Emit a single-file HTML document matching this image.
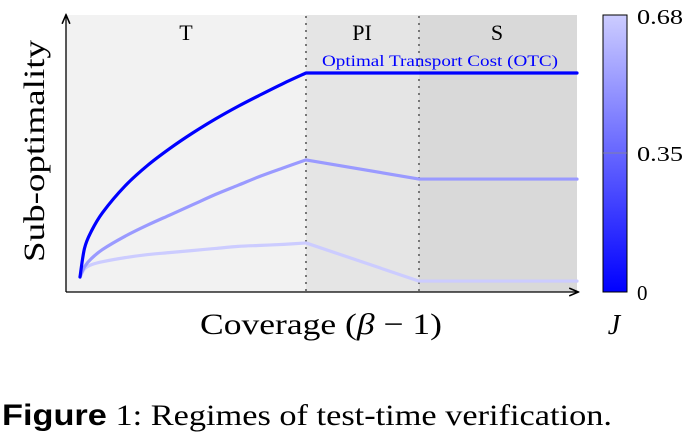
<!DOCTYPE html>
<html><head><meta charset="utf-8"><style>
body{margin:0;background:#fff;width:689px;height:441px;overflow:hidden}
svg text{font-family:"Liberation Serif",serif}
</style></head><body>
<svg width="689" height="441">
<defs><linearGradient id="cb" x1="0" y1="1" x2="0" y2="0"><stop offset="0" stop-color="#0000ff"/><stop offset="1" stop-color="#ccccff"/></linearGradient>
<marker id="ar" markerWidth="8" markerHeight="8" refX="6" refY="4" orient="auto"><path d="M0,1 L7,4 L0,7" fill="none" stroke="#000" stroke-width="1.2"/></marker></defs>
<g id="bg"></g>
<g id="lines"></g>
<line x1="66" y1="292" x2="66" y2="16" stroke="#000" stroke-width="1.3" marker-end="url(#ar)"/>
<line x1="66" y1="292" x2="577" y2="292" stroke="#000" stroke-width="1.3" marker-end="url(#ar)"/>
<text x="186" y="40" font-size="22" text-anchor="middle">T</text>
<text x="362" y="40" font-size="22" text-anchor="middle">PI</text>
<text x="497" y="40" font-size="22" text-anchor="middle">S</text>
<text x="322" y="66" font-size="16" fill="#0000ff" textLength="236" lengthAdjust="spacingAndGlyphs">Optimal Transport Cost (OTC)</text>
<text transform="translate(44,262) rotate(-90)" font-size="30" textLength="222" lengthAdjust="spacingAndGlyphs">Sub-optimality</text>
<text x="200" y="334" font-size="30" textLength="242" lengthAdjust="spacingAndGlyphs">Coverage (<tspan font-style="italic">β</tspan> − 1)</text>
<rect x="603" y="15" width="24" height="277" fill="url(#cb)" stroke="#000" stroke-width="1"/>
<line x1="603" y1="153" x2="627" y2="153" stroke="#888" stroke-width="0.8"/>
<text x="637" y="24" font-size="21" textLength="46" lengthAdjust="spacingAndGlyphs">0.68</text>
<text x="637" y="161" font-size="21" textLength="46" lengthAdjust="spacingAndGlyphs">0.35</text>
<text x="637" y="300" font-size="21">0</text>
<text x="614" y="334" font-size="28" font-style="italic" text-anchor="middle">J</text>
<text x="2" y="425" font-size="30" textLength="610" lengthAdjust="spacingAndGlyphs"><tspan font-family="Liberation Sans" font-weight="bold">Figure</tspan> 1: Regimes of test-time verification.</text>
</svg>
<script>
const xs=[0,0.02,0.05,0.1,0.2,0.3,0.4,0.5,0.6,0.7,0.8,0.9,1.0,1.5,2.2];
const darkVals=[0,0.141,0.224,0.316,0.447,0.548,0.632,0.707,0.775,0.837,0.894,0.949,1,1,1];
const midVals=[0,0.05,0.09,0.135,0.2,0.255,0.305,0.355,0.405,0.45,0.495,0.535,0.574,0.48,0.48];
const lightVals=[0,0.04,0.06,0.075,0.095,0.11,0.12,0.13,0.14,0.15,0.155,0.16,0.167,-0.02,-0.02];
const boundaries=[1.0,1.5];
const X=v=>80+v*226, Y=v=>277-v*204;
const NS="http://www.w3.org/2000/svg";
const bg=document.getElementById('bg'), lg=document.getElementById('lines');
[[66,X(boundaries[0]),'#f2f2f2','region-t'],[X(boundaries[0]),X(boundaries[1]),'#e5e5e5','region-pi'],[X(boundaries[1]),577,'#d9d9d9','region-s']].forEach(r=>{
 const e=document.createElementNS(NS,'rect');
 e.setAttribute('x',r[0]);e.setAttribute('y',15);e.setAttribute('width',r[1]-r[0]);e.setAttribute('height',277);e.setAttribute('fill',r[2]);
 
 
 bg.appendChild(e);});
boundaries.forEach(b=>{const e=document.createElementNS(NS,'line');
 e.setAttribute('x1',X(b));e.setAttribute('x2',X(b));e.setAttribute('y1',16);e.setAttribute('y2',292);
 e.setAttribute('stroke','#777');e.setAttribute('stroke-width','2');e.setAttribute('stroke-dasharray','2 5');
 
 
 bg.appendChild(e);});
function smoothPath(pts){
 let d='M'+pts[0][0]+','+pts[0][1];
 for(let i=0;i<pts.length-1;i++){
  const p0=pts[Math.max(i-1,0)],p1=pts[i],p2=pts[i+1],p3=pts[Math.min(i+2,pts.length-1)];
  const c1=[p1[0]+(p2[0]-p0[0])/6,p1[1]+(p2[1]-p0[1])/6];
  const c2=[p2[0]-(p3[0]-p1[0])/6,p2[1]-(p3[1]-p1[1])/6];
  d+='C'+c1[0]+','+c1[1]+' '+c2[0]+','+c2[1]+' '+p2[0]+','+p2[1];
 }
 return d;
}
[[lightVals,'#ccccff','series-low-j'],[midVals,'#9a9aff','series-mid-j'],[darkVals,'#0000ff','series-high-j']].forEach(s=>{
 const p=document.createElementNS(NS,'path');
 const k=xs.indexOf(boundaries[0]);
 const tPts=xs.slice(0,k+1).map((x,i)=>[X(x),Y(s[0][i])]);
 let d=smoothPath(tPts);
 for(let i=k+1;i<xs.length;i++){const xx=i==xs.length-1?577:X(xs[i]);d+='L'+xx+','+Y(s[0][i]);}
 p.setAttribute('d',d);p.setAttribute('fill','none');p.setAttribute('stroke',s[1]);p.setAttribute('stroke-width','3.2');p.setAttribute('stroke-linejoin','round');p.setAttribute('stroke-linecap','round');
 
 
 lg.appendChild(p);});
</script>
</body></html>
